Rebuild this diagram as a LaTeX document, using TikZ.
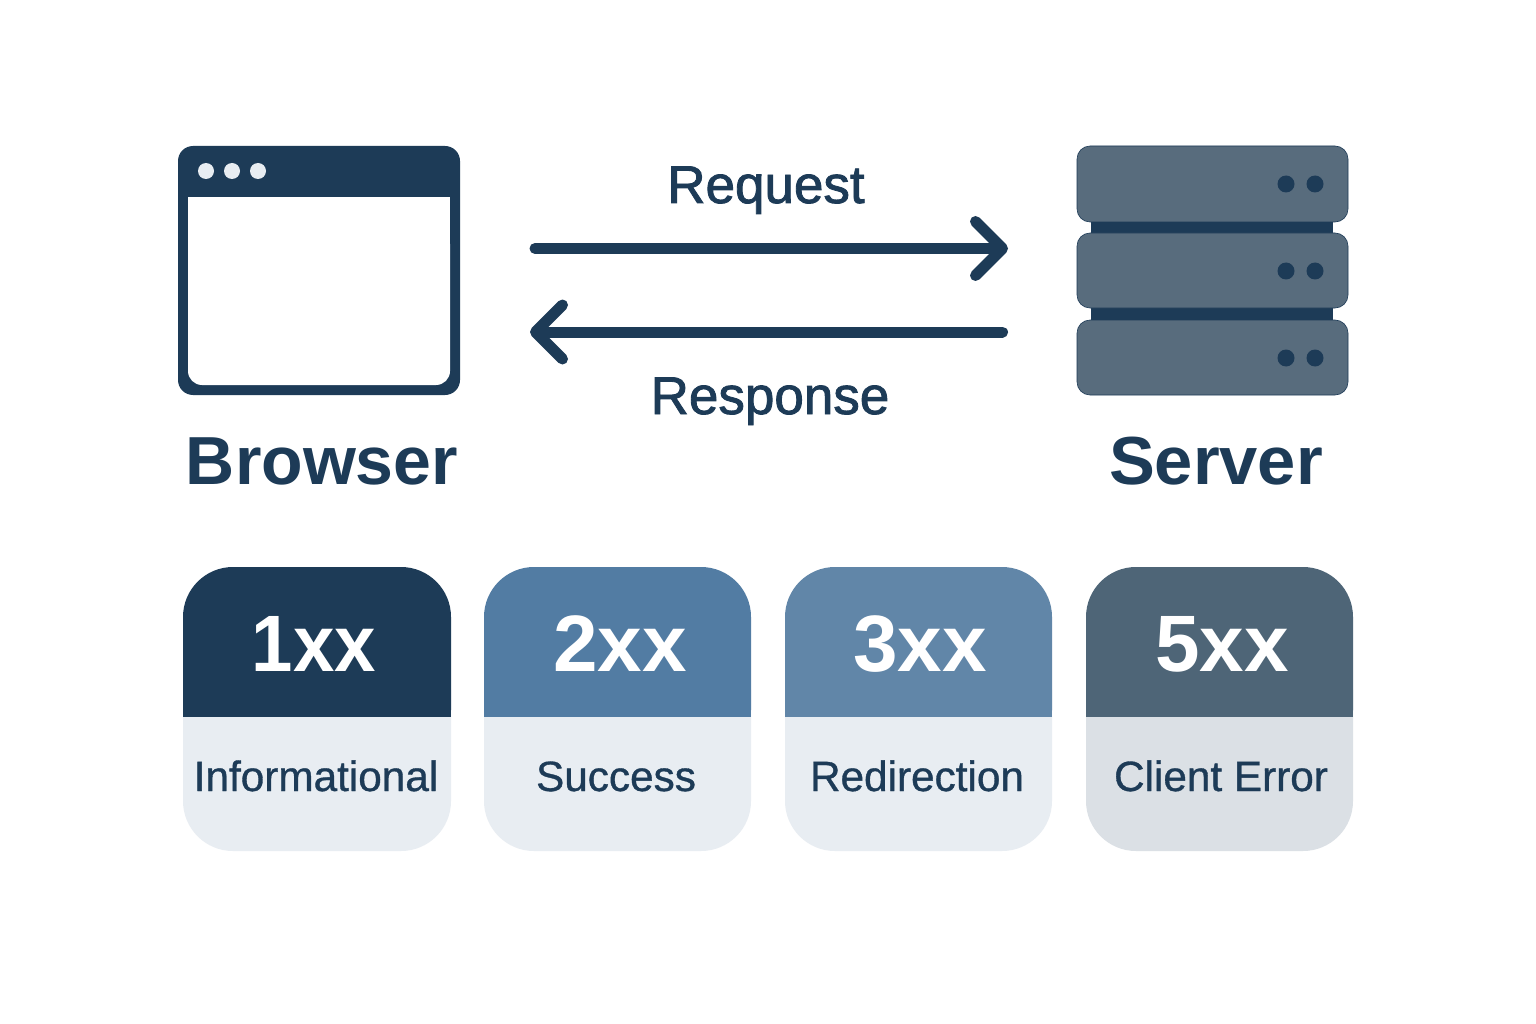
\documentclass[tikz,border=0pt]{standalone}
\usepackage{fontspec}
\setmainfont{Liberation Sans}
\newfontfamily\medfont[FakeBold=1.6]{Liberation Sans}
\newfontfamily\midfont[FakeBold=0.8]{Liberation Sans}
\usetikzlibrary{arrows.meta}
\definecolor{navy}{HTML}{1D3B57}
\definecolor{slate}{HTML}{586C7D}
\definecolor{pale}{HTML}{E8EDF2}
\definecolor{paledark}{HTML}{DBE0E5}
\definecolor{blueA}{HTML}{527CA3}
\definecolor{blueB}{HTML}{6186A8}
\definecolor{slateB}{HTML}{4E6577}
\tikzset{
  flow/.style={draw=navy,line width=11pt,line cap=round,-{Straight Barb[round,length=27pt,width=54pt]}},
  biglabel/.style={text=navy,font=\fontsize{68}{68}\selectfont\bfseries,inner sep=0pt,anchor=base},
  arrowlabel/.style={text=navy,font=\fontsize{53}{53}\selectfont\medfont,inner sep=0pt,anchor=base},
  codelabel/.style={text=white,font=\fontsize{80}{80}\selectfont\bfseries,inner sep=0pt,anchor=base},
  namelabel/.style={text=navy,font=\fontsize{42.3}{42.3}\selectfont\midfont,inner sep=0pt,anchor=base},
  dotlight/.style={fill=pale,draw=none},
  dotdark/.style={fill=navy,draw=none},
  unit/.style={fill=slate,draw=navy,line width=.6pt,rounded corners=13pt},
}
\newcommand{\statuscard}[9]{% left right top-colour bottom-colour code codex name namex code-xscale
  \fill[#4,rounded corners=50pt] (#1,640) rectangle (#2,851);
  \fill[#3,rounded corners=50pt] (#1,567) rectangle (#2,760);
  \fill[#3] (#1,650) rectangle (#2,717);
  \fill[#4] (#1,717) rectangle (#2,790);
  \node[codelabel,xscale=#9] (code#5) at (#6,671) {#5};
  \node[namelabel] (name#5) at (#8,791) {#7};
}
\begin{document}
\begin{tikzpicture}[x=1pt,y=-1pt]
\useasboundingbox (0,0) rectangle (1536,1024);
\fill[white] (0,0) rectangle (1536,1024);
% browser
\fill[navy,rounded corners=15pt] (178,146) rectangle (460,395);
\fill[white,rounded corners=14pt] (188,230) rectangle (450,385);
\fill[white] (188,197) rectangle (450,250);
\fill[dotlight] (206,171) circle (8pt) (232,171) circle (8pt) (258,171) circle (8pt);
% server
\fill[navy] (1091,215) rectangle (1333,330);
\foreach \t/\b/\d in {146/222/184,233/308/271,320/395/358}{
  \draw[unit] (1077,\t) rectangle (1348,\b);
  \fill[dotdark] (1286,\d) circle (8.5pt) (1315,\d) circle (8.5pt);
}
\node[biglabel] (browser) at (322,484) {Browser};
\node[biglabel,xscale=1.01] (server) at (1216,484) {Server};
% arrows
\coordinate (reqA) at (535,248.5);
\coordinate (reqB) at (1008,248.5);
\coordinate (resA) at (1002.5,332);
\coordinate (resB) at (530,332);
\draw[flow] (reqA) -- (reqB);
\draw[flow] (resA) -- (resB);
\node[arrowlabel] (req) at (766,203) {Request};
\node[arrowlabel] (res) at (770,414) {Response};
% cards
\statuscard{183}{451}{navy}{pale}{1xx}{314}{Informational}{316}{0.93}
\statuscard{484}{751}{blueA}{pale}{2xx}{620}{Success}{616}{1}
\statuscard{785}{1052}{blueB}{pale}{3xx}{920}{Redirection}{917}{1}
\statuscard{1086}{1353}{slateB}{paledark}{5xx}{1222}{Client Error}{1221}{1}
\end{tikzpicture}
\end{document}
